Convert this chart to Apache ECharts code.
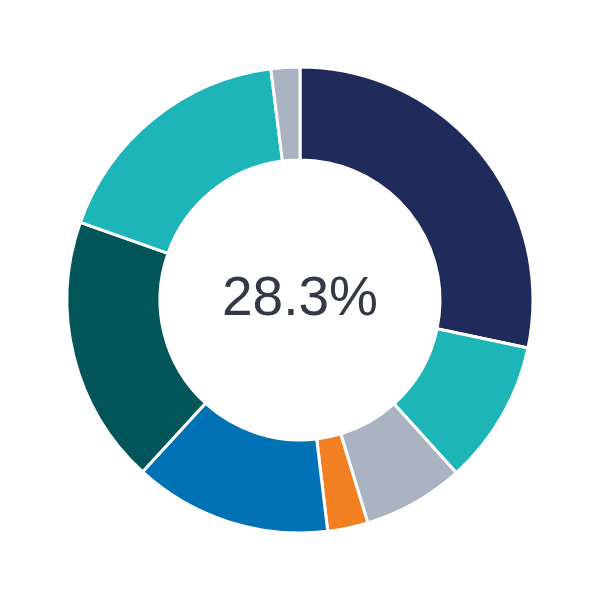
<!DOCTYPE html>
<html>
	<head>
		<meta charset="UTF-8">
		<title></title>
		<style>
			html,body{
				margin:0px;
				height:100%;
				background:#fff;
			}
			#donut {
				width:600px;
				height:600px;
			}
		</style>
	</head>
	<body>
		<div id="donut"></div>
		<script src="https://cdn.jsdelivr.net/npm/echarts@6/dist/echarts.min.js"></script>
		<script>
			// slice shares, clockwise from top
			var sliceNames = ["A", "B", "C", "D", "E", "F", "G", "H"];
			var sliceValues = [28.3, 10.0, 7.0, 2.8, 13.7, 18.6, 17.6, 2.0];
			var sliceColors = ["#1e2b5b", "#1db5b8", "#a9b3c1", "#f28023", "#0072b5", "#02565a", "#1db5b8", "#a9b3c1"];
			var centerLabel = "28.3%";

			var chart = echarts.init(document.getElementById('donut'));

			var pieData = [];
			for (var i = 0; i < sliceValues.length; i++) {
				pieData.push({
					name: sliceNames[i],
					value: sliceValues[i],
					itemStyle: { color: sliceColors[i] }
				});
			}

			chart.setOption({
				animation: false,
				title: {
					text: centerLabel,
					left: 'center',
					top: 'middle',
					textStyle: {
						fontFamily: 'Liberation Sans',
						fontSize: 55,
						fontWeight: 'normal',
						color: '#333a45'
					}
				},
				series: [{
					type: 'pie',
					center: [300, 300],
					radius: [140, 233],
					startAngle: 90,
					clockwise: true,
					label: { show: false },
					labelLine: { show: false },
					itemStyle: {
						borderColor: '#fff',
						borderWidth: 3
					},
					data: pieData
				}]
			});
		</script>
	</body>
</html>
